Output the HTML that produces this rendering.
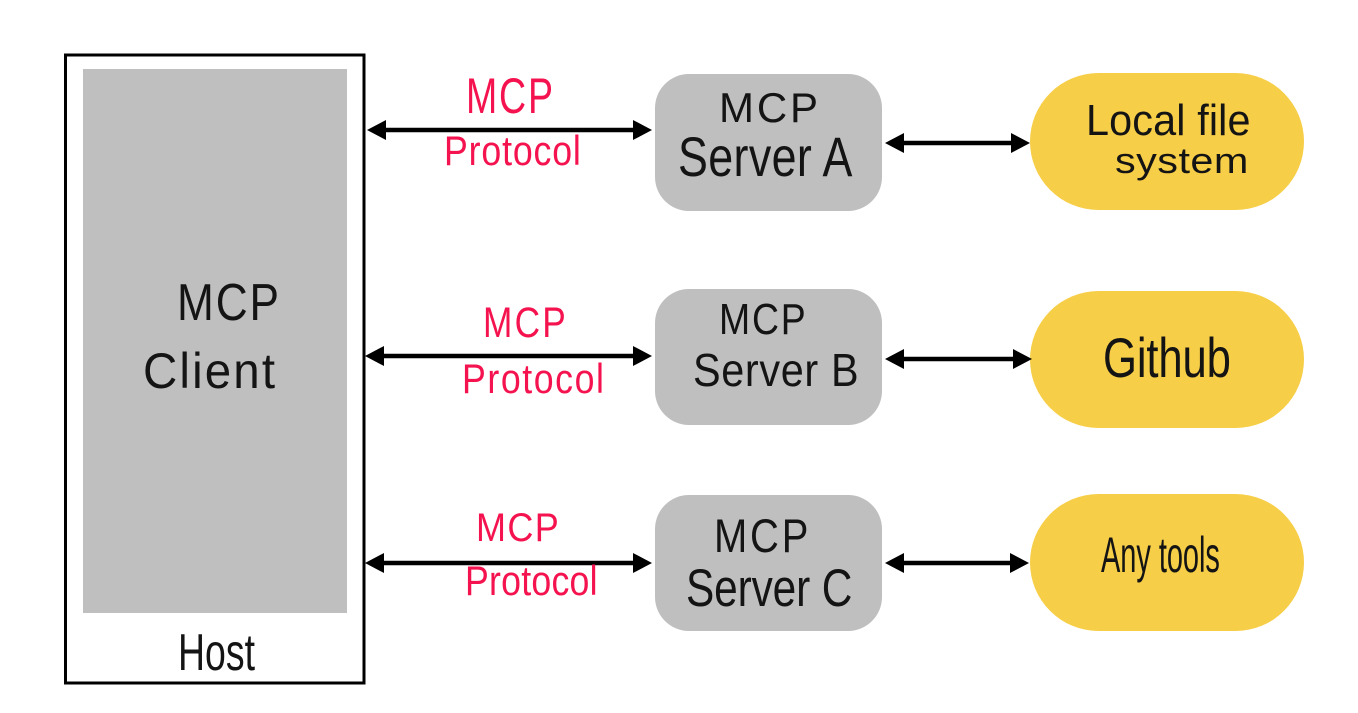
<!DOCTYPE html>
<html>
<head>
<meta charset="utf-8">
<style>
html,body{margin:0;padding:0;background:#fff;width:1358px;height:713px;overflow:hidden}
svg{display:block}
text{font-family:"Liberation Sans",sans-serif;font-weight:400}
.k{fill:#141414}
.r{fill:#f5134f}
</style>
</head>
<body>
<svg width="1358" height="713" viewBox="0 0 1358 713" xmlns="http://www.w3.org/2000/svg">
<rect width="1358" height="713" fill="#fff"/>
<rect x="65.5" y="55" width="298.5" height="628" fill="#fff" stroke="#000" stroke-width="3"/>
<rect x="83" y="69" width="264" height="544" fill="#bfbfbf"/>
<rect x="655" y="74" width="227" height="137" rx="34" fill="#bfbfbf"/>
<rect x="655" y="289" width="227" height="136" rx="34" fill="#bfbfbf"/>
<rect x="655" y="495" width="227" height="136" rx="34" fill="#bfbfbf"/>
<rect x="1030" y="73" width="274" height="137" rx="68.5" fill="#f7ce47"/>
<rect x="1030" y="291" width="274" height="137" rx="68.5" fill="#f7ce47"/>
<rect x="1030" y="494" width="274" height="137" rx="68.5" fill="#f7ce47"/>

<g stroke="#000" stroke-width="4.5">
<line x1="380" y1="130" x2="640" y2="130"/>
<line x1="378" y1="356" x2="640" y2="356"/>
<line x1="378" y1="563" x2="640" y2="563"/>
<line x1="900" y1="143" x2="1018" y2="143"/>
<line x1="900" y1="359" x2="1020" y2="359"/>
<line x1="900" y1="563" x2="1016" y2="563"/>
</g>
<g fill="#000">
<path d="M367 130L386 120V140Z"/><path d="M652 130L633 120V140Z"/>
<path d="M365 356L384 346V366Z"/><path d="M652 356L633 346V366Z"/>
<path d="M365 563L384 553V573Z"/><path d="M652 563L633 553V573Z"/>
<path d="M885 143L904 133V153Z"/><path d="M1030 143L1011 133V153Z"/>
<path d="M885 359L904 349V369Z"/><path d="M1032 359L1013 349V369Z"/>
<path d="M885 563L904 553V573Z"/><path d="M1029 563L1010 553V573Z"/>
</g>

<text class="r" transform="translate(466 113) scale(.75 1)" font-size="50" textLength="116" lengthAdjust="spacing">MCP</text>
<text class="r" transform="translate(444 165) scale(.85 1)" font-size="42" textLength="161" lengthAdjust="spacing">Protocol</text>
<text class="r" transform="translate(483 337) scale(.82 1)" font-size="43" textLength="101" lengthAdjust="spacing">MCP</text>
<text class="r" transform="translate(462 393) scale(.85 1)" font-size="42" textLength="167" lengthAdjust="spacing">Protocol</text>
<text class="r" transform="translate(476 541) scale(.9 1)" font-size="40" textLength="92" lengthAdjust="spacing">MCP</text>
<text class="r" transform="translate(465 595) scale(.85 1)" font-size="42" textLength="156" lengthAdjust="spacing">Protocol</text>

<text class="k" transform="translate(719 122)" font-size="42" textLength="99" lengthAdjust="spacing">MCP</text>
<text class="k" transform="translate(678 176) scale(.8 1)" font-size="56" textLength="218" lengthAdjust="spacing">Server A</text>
<text class="k" transform="translate(719 334) scale(.85 1)" font-size="44" textLength="102" lengthAdjust="spacing">MCP</text>
<text class="k" transform="translate(693 386) scale(.9 1)" font-size="46" textLength="184" lengthAdjust="spacing">Server B</text>
<text class="k" transform="translate(714 552) scale(.85 1)" font-size="47" textLength="111" lengthAdjust="spacing">MCP</text>
<text class="k" transform="translate(686 606) scale(.8 1)" font-size="53" textLength="208" lengthAdjust="spacing">Server C</text>

<text class="k" transform="translate(177 320) scale(.85 1)" font-size="52" textLength="120" lengthAdjust="spacing">MCP</text>
<text class="k" transform="translate(143 388) scale(.95 1)" font-size="50" textLength="139" lengthAdjust="spacing">Client</text>
<text class="k" transform="translate(178 670) scale(.72 1)" font-size="52" textLength="107" lengthAdjust="spacing">Host</text>

<text class="k" transform="translate(1086 135) scale(.94 1)" font-size="44" textLength="175" lengthAdjust="spacing">Local file</text>
<text class="k" transform="translate(1115 173) scale(1.15 1)" font-size="36" textLength="116" lengthAdjust="spacing">system</text>
<text class="k" transform="translate(1103 377) scale(.78 1)" font-size="56" textLength="164" lengthAdjust="spacing">Github</text>
<text class="k" transform="translate(1101 572) scale(.58 1)" font-size="50" textLength="205" lengthAdjust="spacing">Any tools</text>
</svg>
</body>
</html>
